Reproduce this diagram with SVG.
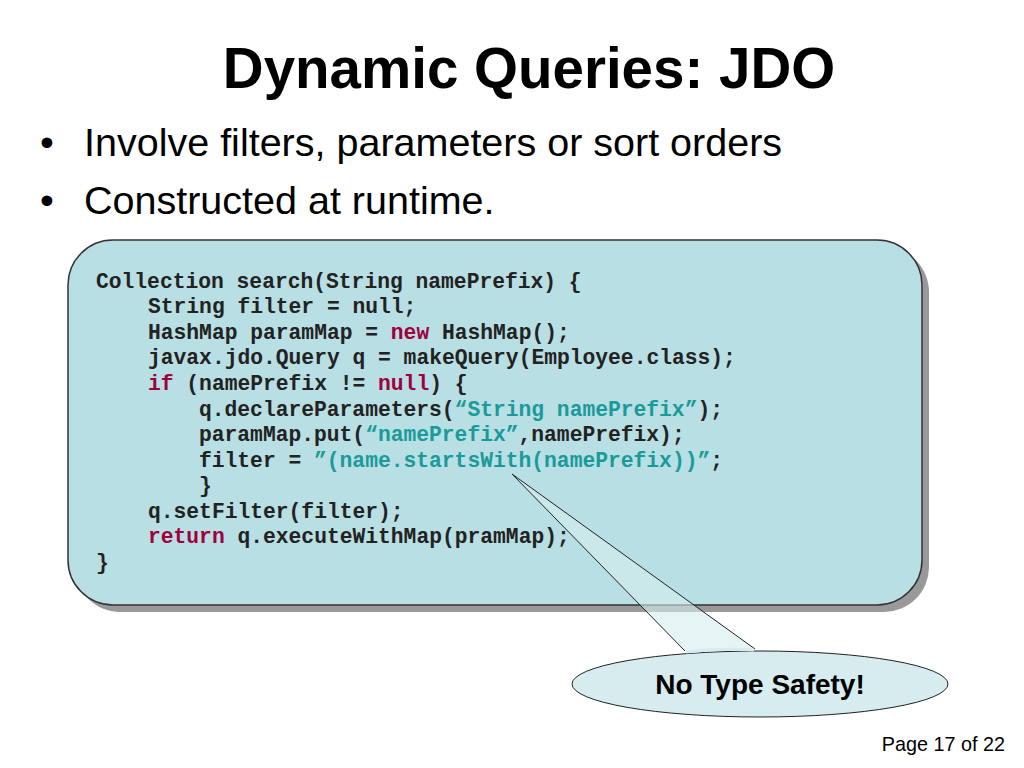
<svg xmlns="http://www.w3.org/2000/svg" width="1024" height="768" viewBox="0 0 1024 768">
<style>
.s{font-family:"Liberation Sans",Arial,sans-serif}
.c{font-family:"Liberation Mono","Courier New",monospace;font-weight:bold;font-size:21.3px;fill:#222}
.k{fill:#a0003c}
.q{fill:#1a9a9a}
</style>
<rect width="1024" height="768" fill="#fff"/>
<text class="s" x="529" y="88" font-size="56.5" font-weight="bold" text-anchor="middle">Dynamic Queries: JDO</text>
<g class="s" font-size="39.5">
<text x="40" y="156">•</text><text x="84" y="156">Involve filters, parameters or sort orders</text>
<text x="40" y="214">•</text><text x="84" y="214">Constructed at runtime.</text>
</g>
<g id="codebox">
<rect x="75" y="247" width="854" height="365" rx="45" fill="#999"/>
<rect x="68" y="240" width="854" height="365" rx="45" fill="#b8dfe3" stroke="#333" stroke-width="1.5"/>
<text class="c" x="96" y="288">Collection search(String namePrefix) {</text>
<text class="c" x="148" y="313">String filter = null;</text>
<text class="c" x="148" y="339">HashMap paramMap = <tspan class="k">new</tspan> HashMap();</text>
<text class="c" x="148" y="364">javax.jdo.Query q = makeQuery(Employee.class);</text>
<text class="c" x="148" y="390"><tspan class="k">if</tspan> (namePrefix != <tspan class="k">null</tspan>) {</text>
<text class="c" x="199" y="416">q.declareParameters(<tspan class="q">“String namePrefix”</tspan>);</text>
<text class="c" x="199" y="441">paramMap.put(<tspan class="q">“namePrefix”</tspan>,namePrefix);</text>
<text class="c" x="199" y="467">filter = <tspan class="q">”(name.startsWith(namePrefix))”</tspan>;</text>
<text class="c" x="199" y="492">}</text>
<text class="c" x="148" y="518">q.setFilter(filter);</text>
<text class="c" x="148" y="543"><tspan class="k">return</tspan> q.executeWithMap(pramMap);</text>
<text class="c" x="96" y="569">}</text>
</g>
<g id="callout">
<path d="M685,651 L512,474 L755,649" fill="#d6ecee" fill-opacity="0.6" stroke="#222" stroke-width="1"/>
<ellipse cx="760" cy="684" rx="188" ry="33" fill="#d6ecee" stroke="#222" stroke-width="1"/>
<path d="M686,652 Q720,648 754,650" fill="none" stroke="#d6ecee" stroke-width="3"/>
<text class="s" x="760" y="694" font-size="28" font-weight="bold" text-anchor="middle">No Type Safety!</text>
</g>
<text class="s" x="1005" y="751" font-size="19.8" text-anchor="end">Page 17 of 22</text>
</svg>
